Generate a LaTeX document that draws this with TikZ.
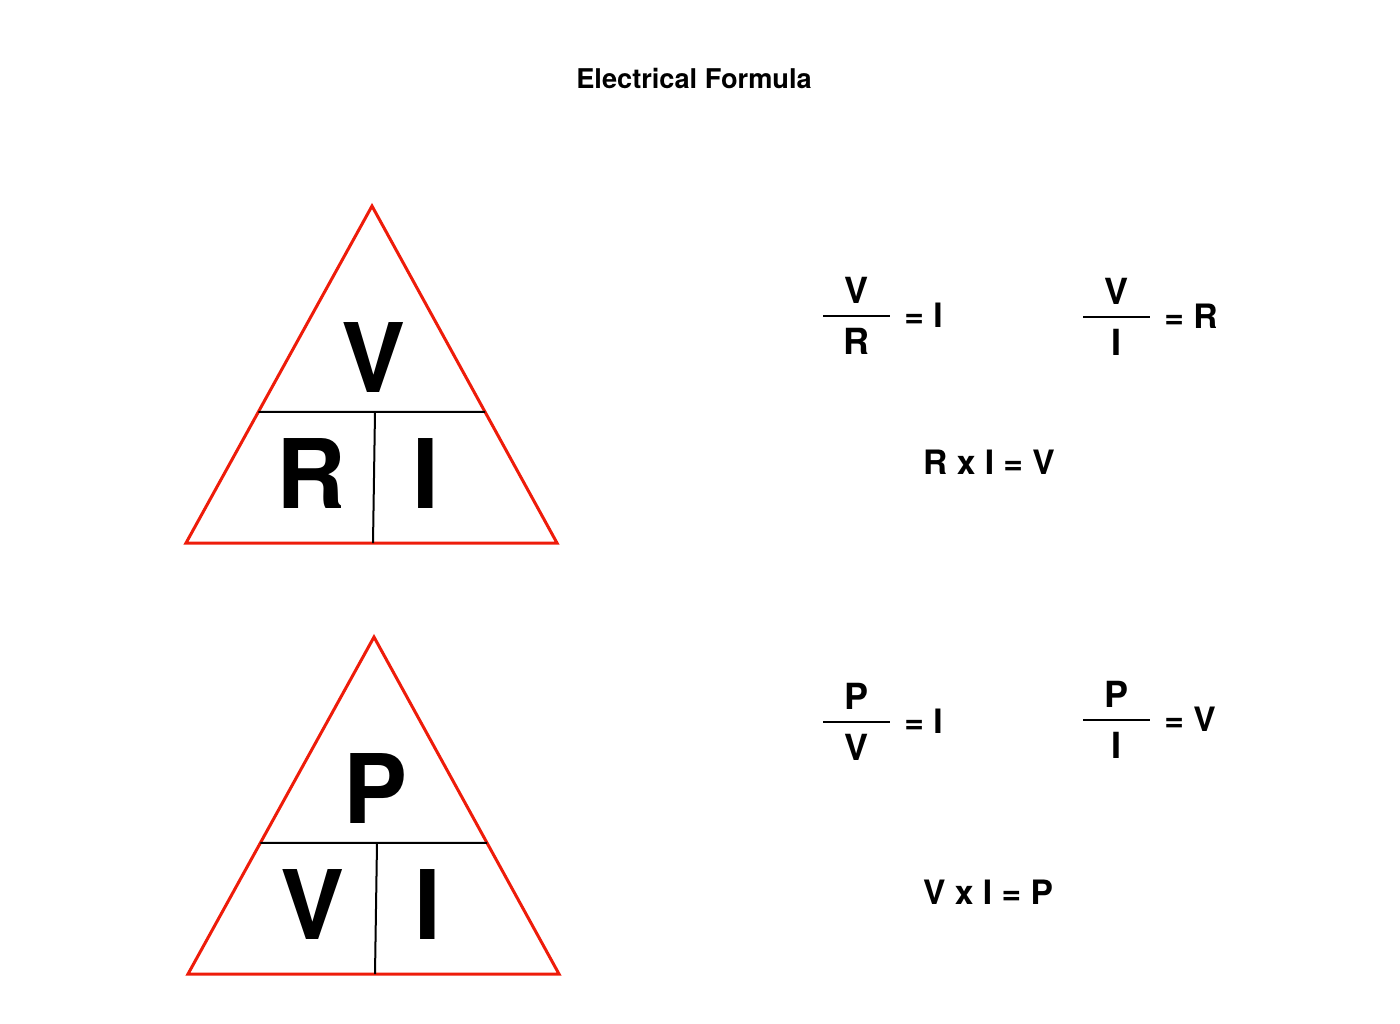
\documentclass[tikz,border=0pt]{standalone}
\usepackage{fontspec}
\setmainfont{TeX Gyre Heros}
\usetikzlibrary{positioning,calc}
\definecolor{trired}{RGB}{238,28,10}

\begin{document}
\begin{tikzpicture}[x=0.5pt,y=-0.5pt,
  tri/.style={draw=trired,line width=1.5pt,line join=miter},
  split/.style={draw=black,line width=1pt},
  fbar/.style={draw=black,line width=1pt},
  big/.style={inner sep=0pt,font=\fontsize{48}{48}\selectfont\bfseries},
  frm/.style={inner sep=0pt,font=\fontsize{18}{18}\selectfont\bfseries},
  eqn/.style={inner sep=0pt,font=\fontsize{16.8}{16.8}\selectfont\bfseries},
  ttl/.style={inner sep=0pt,font=\fontsize{13.6}{13.6}\selectfont\bfseries}]
\useasboundingbox (0,0) rectangle (1400,1023);

\node[ttl] (title) at (694,78) {Electrical Formula};

% the two triangles
\foreach \n/\dx/\dy/\up/\lo/\ro in {one/0/0/V/R/I,two/2/431/P/V/I}{
  \begin{scope}[shift={(\dx,\dy)}]
    \coordinate (apex\n) at (372,206);
    \coordinate (bl\n) at (186,543);
    \coordinate (br\n) at (557,543);
    \draw[tri] (apex\n) -- (br\n) -- (bl\n) -- cycle;
    \coordinate (ml\n) at ($(apex\n)!0.611!(bl\n)$);
    \coordinate (mr\n) at ($(apex\n)!0.611!(br\n)$);
    \coordinate (mt\n) at (375,412);
    \coordinate (mb\n) at (373,543);
    \draw[split] (ml\n) -- (mr\n) (mt\n) -- (mb\n);
    \node[big] (up\n) at (374,357) {\up};
    \node[big] (lo\n) at (311,473) {\lo};
    \node[big] (ro\n) at (426,473) {\ro};
  \end{scope}
}

% fractions
\foreach \n/\x/\y/\num/\den/\res in %
{a/856/316/V/R/I,b/1116/317/V/I/R,c/856/722/P/V/I,d/1116/720/P/I/V} {
  \coordinate (fl\n) at (\x-33,\y);
  \coordinate (fr\n) at (\x+34,\y);
  \draw[fbar] (fl\n) -- (fr\n);
  \node[frm] (num\n) at (\x,\y-26) {\num};
  \node[frm] (den\n) at (\x,\y+25) {\den};
  \node[eqn,anchor=west] (res\n) at (\x+48,\y-1) {= \res};
}

\node[eqn] (prodone) at (989,462) {R x I = V};
\node[eqn] (prodtwo) at (988,892) {V x I = P};
\end{tikzpicture}
\end{document}
